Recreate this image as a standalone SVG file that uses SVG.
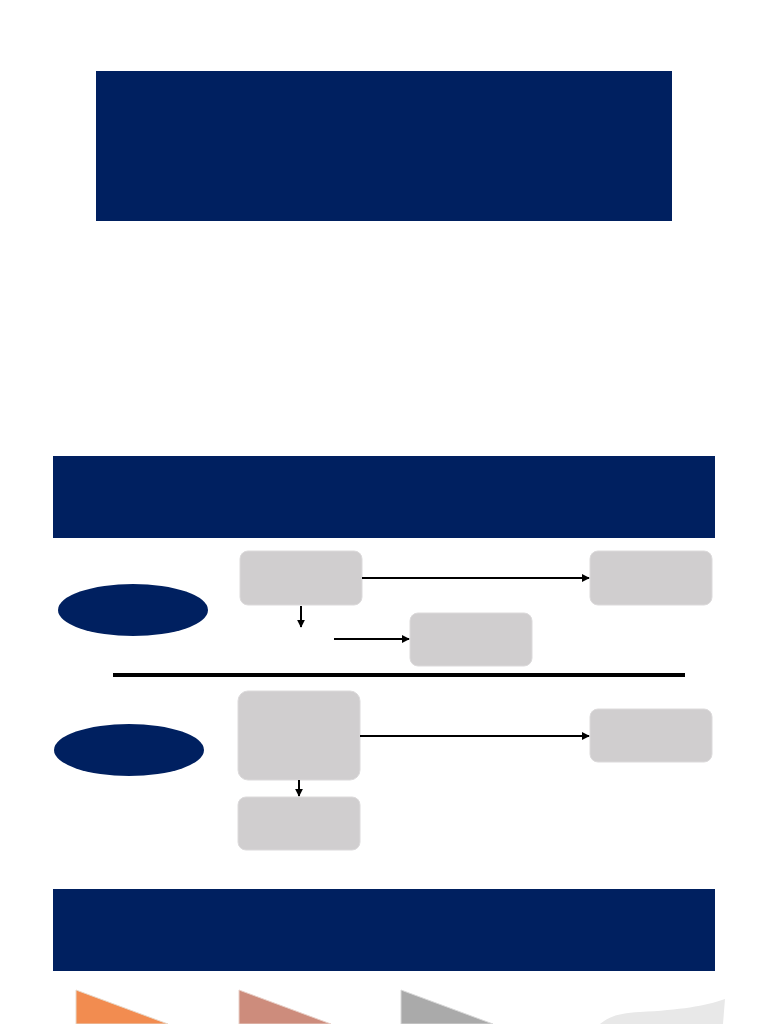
<svg xmlns="http://www.w3.org/2000/svg" width="768" height="1024" viewBox="0 0 768 1024">
<defs>
<style>
.banner{fill:#002060}
.box{fill:#D0CECF;stroke:#DCDADB;stroke-width:1}
.ell{fill:#002060}
.conn{stroke:#000;stroke-width:2;fill:none}
</style>
<marker id="ah" viewBox="0 0 10 10" refX="9" refY="5" markerWidth="4" markerHeight="4" orient="auto" markerUnits="strokeWidth">
<path d="M0,0 L10,5 L0,10 z" fill="#000"/>
</marker>
</defs>
<rect width="768" height="1024" fill="#fff"/>
<g id="banner1"><rect class="banner" x="96" y="71" width="576" height="150"/></g>
<g id="banner2"><rect class="banner" x="53" y="456" width="662" height="82"/></g>
<g id="banner3"><rect class="banner" x="53" y="889" width="662" height="82"/></g>
<g id="ellipse1"><ellipse class="ell" cx="133" cy="610" rx="75" ry="26"/></g>
<g id="ellipse2"><ellipse class="ell" cx="129" cy="750" rx="75" ry="26"/></g>
<g id="boxA"><rect class="box" x="240" y="551" width="122" height="54" rx="8"/></g>
<g id="boxB"><rect class="box" x="590" y="551" width="122" height="54" rx="8"/></g>
<g id="boxC"><rect class="box" x="410" y="613" width="122" height="53" rx="8"/></g>
<g id="boxD"><rect class="box" x="238" y="691" width="122" height="89" rx="10"/></g>
<g id="boxE"><rect class="box" x="590" y="709" width="122" height="53" rx="8"/></g>
<g id="boxF"><rect class="box" x="238" y="797" width="122" height="53" rx="8"/></g>
<g id="connectors">
<line class="conn" x1="362" y1="578" x2="589" y2="578" marker-end="url(#ah)"/>
<line class="conn" x1="301" y1="606" x2="301" y2="627" marker-end="url(#ah)"/>
<line class="conn" x1="334" y1="639" x2="409" y2="639" marker-end="url(#ah)"/>
<line class="conn" x1="360" y1="736" x2="589" y2="736" marker-end="url(#ah)"/>
<line class="conn" x1="299" y1="780" x2="299" y2="796" marker-end="url(#ah)"/>
</g>
<g id="divider"><line x1="113" y1="675" x2="685" y2="675" stroke="#000" stroke-width="4"/></g>
<g id="footer">
<path d="M76,990 L168,1024 L76,1024 Z" fill="#F28C50" stroke="#E8D8C8" stroke-width="1"/>
<path d="M239,990 L331,1024 L239,1024 Z" fill="#CD8C7C" stroke="#E8D0C8" stroke-width="1"/>
<path d="M401,990 L493,1024 L401,1024 Z" fill="#AAAAAA" stroke="#D8D8D8" stroke-width="1"/>
<path d="M600,1024 C610,1016 620,1013 640,1012 C680,1010 705,1006 725,999 L723,1024 Z" fill="#E8E8E8"/>
</g>
</svg>
